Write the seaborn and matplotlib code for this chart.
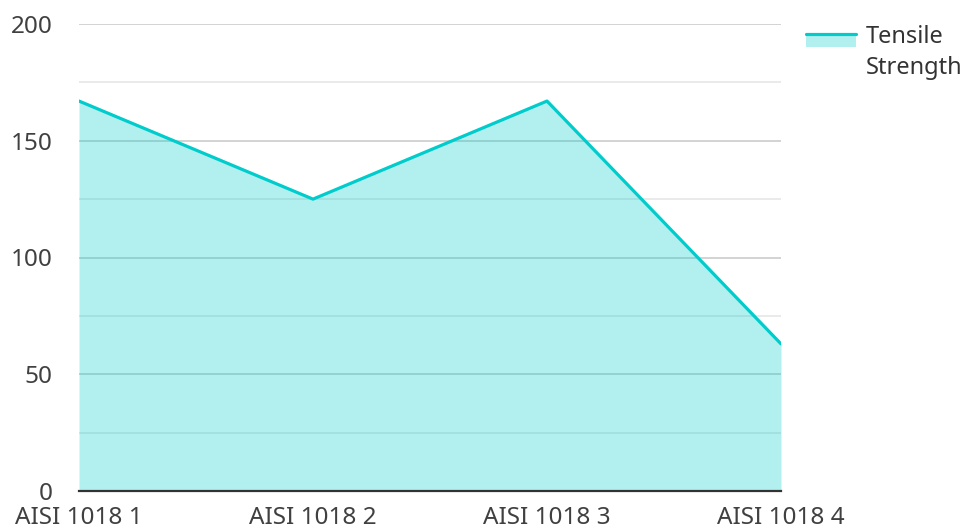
import numpy as np
import pandas as pd
import seaborn as sns
import matplotlib.pyplot as plt
from matplotlib.lines import Line2D
from matplotlib.patches import Patch, Rectangle
from matplotlib.legend_handler import HandlerBase

# data
materials = ["AISI 1018 1", "AISI 1018 2", "AISI 1018 3", "AISI 1018 4"]
tensile_strength = [167, 125, 167, 63]
y_ticks = [0, 50, 100, 150, 200]
y_minor = [25, 75, 125, 175]

line_color = "#00cccc"
fill_color = "#00cccc"
text_color = "#404040"

sns.set_theme(style="white")
plt.rcParams["font.family"] = ["Noto Sans", "DejaVu Sans"]

df = pd.DataFrame({"pos": np.arange(len(materials)), "value": tensile_strength})

fig, ax = plt.subplots(figsize=(9.68, 5.32), dpi=100)
fig.subplots_adjust(left=79 / 968, right=781 / 968, top=1 - 24 / 532, bottom=1 - 491 / 532)

# grid first, then translucent fill over it
for v in y_ticks[1:]:
    ax.axhline(v, color="#cccccc", lw=1.2, zorder=0)
for v in y_minor:
    ax.axhline(v, color="#e6e6e6", lw=1.2, zorder=0)

ax.fill_between(df["pos"], df["value"], 0, color=fill_color, alpha=0.3, lw=0, zorder=1)
sns.lineplot(data=df, x="pos", y="value", color=line_color, lw=2.3, ax=ax, zorder=2,
             legend=False)

ax.set_xlim(0, len(materials) - 1)
ax.set_ylim(0, 200)
ax.set_xticks(df["pos"])
ax.set_xticklabels(materials)
ax.set_yticks(y_ticks)
ax.set_xlabel("")
ax.set_ylabel("")
ax.tick_params(axis="x", length=0, pad=11, labelsize=17.5, labelcolor=text_color)
ax.tick_params(axis="y", length=0, pad=19, labelsize=17.5, labelcolor=text_color)

for side in ["top", "right", "left"]:
    ax.spines[side].set_visible(False)
ax.spines["bottom"].set_color("#333333")
ax.spines["bottom"].set_linewidth(1.6)
ax.spines["bottom"].set_zorder(3)


class AreaHandler(HandlerBase):
    # line on top of a pale band, lifted to sit beside the first text line
    def create_artists(self, legend, orig, xd, yd, w, h, fontsize, trans):
        lift = 15.0
        band = 9.5
        top = yd + h / 2 + lift
        rect = Rectangle((xd, top - band), w, band, facecolor=fill_color, alpha=0.3,
                         lw=0, transform=trans)
        ln = Line2D([xd, xd + w], [top, top], color=line_color, lw=2.3, transform=trans)
        return [rect, ln]


leg = ax.legend(handles=[Patch()], labels=["Tensile\nStrength"],
                handler_map={Patch: AreaHandler()},
                loc="upper left", bbox_to_anchor=(806 / 968, 1 - 25 / 532),
                bbox_transform=fig.transFigure, frameon=False, fontsize=17,
                handlelength=2.1, handleheight=0.6, handletextpad=0.42,
                borderaxespad=0, borderpad=0, labelcolor="#333333")
leg.get_texts()[0].set_linespacing(1.4)

fig.savefig("out.png", dpi=100)
